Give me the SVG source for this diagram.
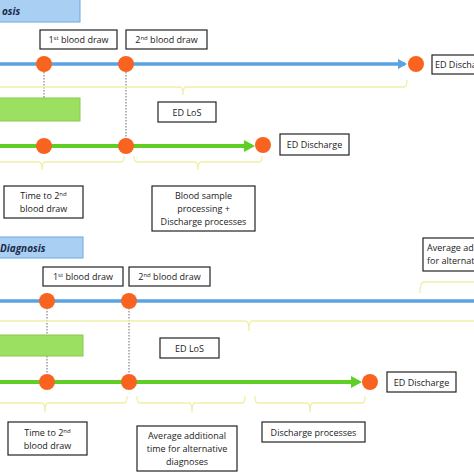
<svg xmlns="http://www.w3.org/2000/svg" width="474" height="474" viewBox="0 0 474 474">
<style>
.lbl{fill:#fff;stroke:#222;stroke-width:1.2}
.t{font-family:"Open Sans","Noto Sans",sans-serif;font-size:9px;fill:#222;text-anchor:middle}
.hdrB{fill:#a9cff2;stroke:#6fa8dc;stroke-width:1}
.hdrG{fill:#9be060;stroke:#8cc850;stroke-width:1}
.ht{font-family:"Open Sans","Noto Sans",sans-serif;font-size:10px;font-weight:bold;font-style:italic;fill:#1a2a4a}
.blue{stroke:#5ba3e0;stroke-width:3.5;fill:none}
.green{stroke:#5fcf26;stroke-width:4;fill:none}
.dot{fill:#f86420}
.vd{stroke:#444;stroke-width:0.8;stroke-dasharray:1.5 1.5;fill:none}
.br{stroke:#efefa8;stroke-width:1.3;fill:none}
</style>
<defs>
<marker id="ab" markerWidth="10" markerHeight="10" refX="7" refY="5" orient="auto" markerUnits="userSpaceOnUse"><path d="M0,0 L9,5 L0,10 z" fill="#5ba3e0"/></marker>
<marker id="ag" markerWidth="12" markerHeight="12" refX="8" refY="6" orient="auto" markerUnits="userSpaceOnUse"><path d="M0,0 L11,6 L0,12 z" fill="#5fcf26"/></marker>
</defs>
<rect width="474" height="474" fill="#fff"/>

<!-- Section 1 -->
<g id="hdr1"><rect class="hdrB" x="-5" y="-2" width="85" height="24"/><text class="ht" x="2" y="15">osis</text></g>
<g id="hdr1g"><rect class="hdrG" x="-5" y="98" width="85" height="23"/></g>

<g id="connectors">
<line class="vd" x1="44" y1="72" x2="44" y2="98"/>
<line class="vd" x1="126" y1="72" x2="126" y2="140"/>
<line class="vd" x1="47" y1="308" x2="47" y2="374"/>
<line class="vd" x1="129" y1="308" x2="129" y2="374"/>
<line class="blue" x1="0" y1="64" x2="405" y2="64" marker-end="url(#ab)"/>
<line class="green" x1="0" y1="146" x2="252" y2="146" marker-end="url(#ag)"/>
<line class="blue" x1="0" y1="301" x2="474" y2="301"/>
<line class="green" x1="0" y1="382" x2="359" y2="382" marker-end="url(#ag)"/>
<!-- braces section 1 -->
<path class="br" d="M0,87 L180,87 Q183,87 183,95 Q183,87 186,87 L404,87 Q407,87 407,80"/>
<path class="br" d="M0,162 L39,162 Q42,162 42,170 Q42,162 45,162 L121,162 Q124,162 124,156"/>
<path class="br" d="M134,156 Q134,162 137,162 L195,162 Q198,162 198,170 Q198,162 201,162 L259,162 Q262,162 262,156"/>
<!-- braces section 2 -->
<path class="br" d="M420,293 Q420,282 424,282 L474,282"/>
<path class="br" d="M0,321 L246,321 Q249,321 249,331 Q249,321 252,321 L474,321"/>
<path class="br" d="M0,403 L42,403 Q45,403 45,412 Q45,403 48,403 L124,403 Q127,403 127,396"/>
<path class="br" d="M137,396 Q137,403 140,403 L189,403 Q192,403 192,412 Q192,403 195,403 L242,403 Q245,403 245,396"/>
<path class="br" d="M255,396 Q255,403 258,403 L307,403 Q310,403 310,412 Q310,403 313,403 L362,403 Q365,403 365,396"/>
</g>

<g id="n1a"><rect class="lbl" x="40" y="30" width="77" height="19"/><text class="t" x="78.5" y="43">1<tspan font-size="6" dy="-3">st</tspan><tspan dy="3"> blood draw</tspan></text></g>
<g id="n1b"><rect class="lbl" x="126" y="30" width="81" height="19"/><text class="t" x="166.5" y="43">2<tspan font-size="6" dy="-3">nd</tspan><tspan dy="3"> blood draw</tspan></text></g>
<g id="c1"><circle class="dot" cx="44" cy="64" r="8"/></g>
<g id="c2"><circle class="dot" cx="126" cy="64" r="8"/></g>
<g id="c3"><circle class="dot" cx="416" cy="64" r="8"/></g>
<g id="n1dis"><rect class="lbl" x="432" y="55" width="60" height="19"/><text class="t" x="435" y="68" style="text-anchor:start">ED Discharge</text></g>
<g id="n1los"><rect class="lbl" x="158" y="102" width="58" height="20"/><text class="t" x="187" y="115.5">ED LoS</text></g>
<g id="c4"><circle class="dot" cx="44" cy="146" r="8"/></g>
<g id="c5"><circle class="dot" cx="126" cy="146" r="8"/></g>
<g id="c6"><circle class="dot" cx="263" cy="145" r="8"/></g>
<g id="n1dis2"><rect class="lbl" x="280" y="134" width="69" height="21"/><text class="t" x="314.5" y="147.5">ED Discharge</text></g>
<g id="n1time"><rect class="lbl" x="4" y="186" width="79" height="32"/><text class="t" x="43.5" y="199">Time to 2<tspan font-size="6" dy="-3">nd</tspan></text><text class="t" x="43.5" y="212">blood draw</text></g>
<g id="n1proc"><rect class="lbl" x="152" y="186" width="103" height="45"/><text class="t" x="203.5" y="199">Blood sample</text><text class="t" x="203.5" y="212">processing +</text><text class="t" x="203.5" y="225">Discharge processes</text></g>

<!-- Section 2 -->
<g id="hdr2"><rect class="hdrB" x="-5" y="237" width="88" height="21"/><text class="ht" x="0" y="252">Diagnosis</text></g>
<g id="hdr2g"><rect class="hdrG" x="-5" y="335" width="88" height="21"/></g>
<g id="n2avgtop"><rect class="lbl" x="423" y="238" width="60" height="33"/><text class="t" x="427" y="251" style="text-anchor:start">Average additional</text><text class="t" x="427" y="264" style="text-anchor:start">for alternative</text></g>
<g id="n2a"><rect class="lbl" x="43" y="267" width="80" height="19"/><text class="t" x="83" y="280">1<tspan font-size="6" dy="-3">st</tspan><tspan dy="3"> blood draw</tspan></text></g>
<g id="n2b"><rect class="lbl" x="129" y="267" width="81" height="19"/><text class="t" x="169.5" y="280">2<tspan font-size="6" dy="-3">nd</tspan><tspan dy="3"> blood draw</tspan></text></g>
<g id="c7"><circle class="dot" cx="47" cy="301" r="8"/></g>
<g id="c8"><circle class="dot" cx="129" cy="301" r="8"/></g>
<g id="n2los"><rect class="lbl" x="160" y="338" width="59" height="20"/><text class="t" x="189.5" y="351.5">ED LoS</text></g>
<g id="c9"><circle class="dot" cx="47" cy="382" r="8"/></g>
<g id="c10"><circle class="dot" cx="129" cy="382" r="8"/></g>
<g id="c11"><circle class="dot" cx="370" cy="382" r="8"/></g>
<g id="n2dis"><rect class="lbl" x="387" y="372" width="69" height="20"/><text class="t" x="421.5" y="385.5">ED Discharge</text></g>
<g id="n2time"><rect class="lbl" x="8" y="422" width="79" height="33"/><text class="t" x="47.5" y="435.5">Time to 2<tspan font-size="6" dy="-3">nd</tspan></text><text class="t" x="47.5" y="448.5">blood draw</text></g>
<g id="n2avg"><rect class="lbl" x="137" y="426" width="100" height="45"/><text class="t" x="187" y="439">Average additional</text><text class="t" x="187" y="452">time for alternative</text><text class="t" x="187" y="465">diagnoses</text></g>
<g id="n2dp"><rect class="lbl" x="262" y="422" width="103" height="20"/><text class="t" x="313.5" y="435.5">Discharge processes</text></g>
</svg>
